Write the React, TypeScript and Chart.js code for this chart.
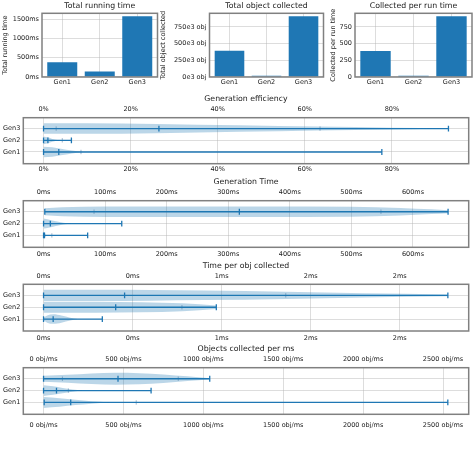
import React, { useEffect, useRef } from "react";
import { Chart, registerables } from "chart.js";

Chart.register(...registerables);

const W = 474;
const H = 474;
const FONT = "'DejaVu Sans', sans-serif";
const C0 = "#1f77b4";
const VIOLIN_FILL = "rgba(31,119,180,0.3)";
const QUANT_COLOR = "rgba(70,110,150,0.55)";
const GRID = "rgba(176,176,176,0.55)";
const TEXT = "#1a1a1a";
const TICK_SIZE = 6.5;
const TITLE_SIZE = 7.8;

Chart.defaults.font.family = FONT;

// ---------------- data: top bar charts ----------------
const gens = ["Gen1", "Gen2", "Gen3"];
const runTimeMs = [383, 140, 1575];
const collectedK = [392, 20, 910];
const collectedPerRun = [390, 18, 912];

const runTimeTicks = [0, 500, 1000, 1500];
const runTimeTickLabels = ["0ms", "500ms", "1000ms", "1500ms"];
const collectedTicks = [0, 250, 500, 750];
const collectedTickLabels = ["0e3 obj", "250e3 obj", "500e3 obj", "750e3 obj"];
const perRunTicks = [0, 250, 500, 750];
const perRunTickLabels = ["0", "250", "500", "750"];

// ---------------- data: violin panels ----------------
// Generation efficiency (%)
const effTicks = [0, 20, 40, 60, 80];
const effTickLabels = ["0%", "20%", "40%", "60%", "80%"];
const effShapeX = [
  [0, 2, 4, 6.5, 9],
  [0, 1, 2, 3.5],
  [0, 10, 26, 45, 63, 80, 93],
];
const effShapeW = [
  [0.45, 0.4, 0.28, 0.12, 0],
  [0.33, 0.25, 0.12, 0],
  [0.45, 0.45, 0.4, 0.28, 0.17, 0.08, 0.02],
];
const effMin = [0, 0, 0];
const effMedian = [3.5, 1.0, 26.5];
const effMax = [77.7, 6.4, 93];
const effQuantiles = [[8.6], [4.3], [2.9, 63.5]];

// Generation Time (ms)
const genTimeTicks = [0, 100, 200, 300, 400, 500, 600];
const genTimeTickLabels = ["0ms", "100ms", "200ms", "300ms", "400ms", "500ms", "600ms"];
const genTimeShapeX = [
  [0, 1.5, 4],
  [0, 8, 20, 32, 45],
  [2, 30, 100, 200, 350, 500, 580, 630, 657],
];
const genTimeShapeW = [
  [0.28, 0.22, 0],
  [0.42, 0.35, 0.2, 0.08, 0],
  [0.3, 0.38, 0.44, 0.45, 0.45, 0.42, 0.32, 0.2, 0.12],
];
const genTimeMin = [0, 0, 2];
const genTimeMedian = [1.5, 11, 318];
const genTimeMax = [71.6, 127, 657];
const genTimeQuantiles = [[13.5], [], [82, 548]];

// Time per obj collected (ms)
const perObjTicks = [0, 0.5, 1, 1.5, 2];
const perObjTickLabels = ["0ms", "0ms", "1ms", "2ms", "2ms"];
const perObjShapeX = [
  [0, 0.02, 0.055, 0.1, 0.15, 0.19],
  [0, 0.3, 0.55, 0.78, 0.97],
  [0, 0.3, 0.6, 0.9, 1.36, 1.8, 2.27],
];
const perObjShapeW = [
  [0.1, 0.3, 0.4, 0.3, 0.12, 0],
  [0.46, 0.46, 0.42, 0.33, 0.15],
  [0.48, 0.48, 0.45, 0.4, 0.3, 0.18, 0.08],
];
const perObjMin = [0, 0, 0];
const perObjMedian = [0.054, 0.405, 0.455];
const perObjMax = [0.33, 0.97, 2.27];
const perObjQuantiles = [[], [0.777], [1.36]];

// Objects collected per ms
const perMsTicks = [0, 500, 1000, 1500, 2000, 2500];
const perMsTickLabels = ["0 obj/ms", "500 obj/ms", "1000 obj/ms", "1500 obj/ms", "2000 obj/ms", "2500 obj/ms"];
const perMsShapeX = [
  [0, 100, 200, 300, 410],
  [0, 60, 120, 180, 245],
  [0, 150, 300, 450, 600, 750, 900, 1040],
];
const perMsShapeW = [
  [0.46, 0.36, 0.22, 0.1, 0],
  [0.45, 0.36, 0.22, 0.09, 0],
  [0.26, 0.34, 0.45, 0.5, 0.47, 0.36, 0.2, 0.05],
];
const perMsMin = [4, 0, 0];
const perMsMedian = [170, 81, 466];
const perMsMax = [2530, 673, 1040];
const perMsQuantiles = [[580], [155], [118, 843]];

// ---------------- plugins ----------------
const framePlugin = {
  id: "frame",
  afterDraw(chart: any) {
    const { ctx, chartArea: a } = chart;
    ctx.save();
    ctx.strokeStyle = "#808080";
    ctx.lineWidth = 1.5;
    ctx.strokeRect(a.left, a.top, a.right - a.left, a.bottom - a.top);
    ctx.restore();
  },
};

function makeTitle(text: string, offset: number) {
  return {
    id: "panelTitle",
    afterDraw(chart: any) {
      const { ctx, chartArea: a } = chart;
      ctx.save();
      ctx.font = `${TITLE_SIZE}px ${FONT}`;
      ctx.fillStyle = TEXT;
      ctx.textAlign = "center";
      ctx.textBaseline = "middle";
      ctx.fillText(text, (a.left + a.right) / 2, a.top - offset);
      ctx.restore();
    },
  };
}

const tickFont = { family: FONT, size: TICK_SIZE };

// ---------------- bar charts ----------------
const BAR_TOP = 13.3;
const BAR_BOTTOM = 77;
const BAR_XH = 10;

function barConfig(
  values: number[],
  yMax: number,
  yTicks: number[],
  yLabels: string[],
  yTitle: string,
  title: string,
  plotLeft: number,
  plotRight: number,
  yTitleX: number
) {
  const padLeft = yTitleX - (TICK_SIZE * 1.2) / 2;
  return {
    type: "bar",
    data: {
      datasets: [
        {
          data: values.map((v, i) => ({ x: i, y: v })),
          backgroundColor: C0,
          categoryPercentage: 1,
          barPercentage: 0.8,
          xAxisID: "x",
          yAxisID: "y",
        },
      ],
    },
    options: {
      animation: false,
      responsive: false,
      devicePixelRatio: 1,
      events: [],
      layout: {
        padding: { left: padLeft, right: W - plotRight, top: BAR_TOP, bottom: H - BAR_BOTTOM - BAR_XH },
      },
      plugins: { legend: { display: false }, tooltip: { enabled: false } },
      scales: {
        x: {
          type: "linear",
          min: -0.54,
          max: 2.54,
          offset: false,
          z: 1,
          afterBuildTicks: (s: any) => {
            s.ticks = gens.map((_, i) => ({ value: i }));
          },
          ticks: {
            callback: (v: number) => gens[Math.round(v)],
            font: tickFont,
            color: TEXT,
            padding: 1.1,
            maxRotation: 0,
            autoSkip: false,
          },
          grid: { color: GRID, lineWidth: 0.8, drawTicks: false, offset: false },
          border: { display: false },
          afterFit: (s: any) => {
            s.height = BAR_XH;
          },
        },
        y: {
          type: "linear",
          min: 0,
          max: yMax,
          z: 1,
          afterBuildTicks: (s: any) => {
            s.ticks = yTicks.map((v) => ({ value: v }));
          },
          ticks: {
            callback: (v: number) => yLabels[yTicks.indexOf(v)],
            font: tickFont,
            color: TEXT,
            padding: 3,
            autoSkip: false,
          },
          grid: { color: GRID, lineWidth: 0.8, drawTicks: false },
          border: { display: false },
          title: { display: true, text: yTitle, font: { family: FONT, size: TICK_SIZE }, color: TEXT, padding: 0 },
          afterFit: (s: any) => {
            s.width = plotLeft - padLeft;
          },
        },
      },
    },
    plugins: [framePlugin, makeTitle(title, 7.6)],
  };
}

// ---------------- violin panels ----------------
const V_LEFT = 23.3;
const V_RIGHT = 472.7;
const V_TOP_H = 20;
const V_BOT_H = 14;
const V_YMAX = 3.93;

function violinDatasets(
  shapeX: number[][],
  shapeW: number[][],
  mins: number[],
  meds: number[],
  maxs: number[],
  quants: number[][]
) {
  const ds: any[] = [];
  gens.forEach((_, g) => {
    const pos = g + 1;
    const xs = shapeX[g];
    const ws = shapeW[g];
    [1, -1].forEach((sgn) => {
      ds.push({
        type: "line",
        data: xs.map((x, i) => ({ x, y: pos + sgn * ws[i] })),
        fill: { value: pos },
        backgroundColor: VIOLIN_FILL,
        borderColor: "rgba(0,0,0,0)",
        borderWidth: 1,
        pointRadius: 0,
        cubicInterpolationMode: "monotone",
        xAxisID: "x",
        yAxisID: "y",
      });
    });
    ds.push({
      type: "line",
      data: [
        { x: mins[g], y: pos },
        { x: maxs[g], y: pos },
      ],
      borderColor: C0,
      borderWidth: 1.3,
      pointRadius: 0,
      fill: false,
      xAxisID: "x",
      yAxisID: "y",
    });
    ds.push({
      type: "line",
      showLine: false,
      data: [mins[g], meds[g], maxs[g]].map((x) => ({ x, y: pos })),
      pointStyle: "line",
      pointRotation: 90,
      pointRadius: 2.9,
      pointBorderColor: C0,
      pointBorderWidth: 1.3,
      fill: false,
      xAxisID: "x",
      yAxisID: "y",
    });
    ds.push({
      type: "line",
      showLine: false,
      data: quants[g].map((x) => ({ x, y: pos })),
      pointStyle: "line",
      pointRotation: 90,
      pointRadius: 2.2,
      pointBorderColor: QUANT_COLOR,
      pointBorderWidth: 0.9,
      fill: false,
      xAxisID: "x",
      yAxisID: "y",
    });
  });
  return ds;
}

function violinConfig(
  title: string,
  xMin: number,
  xMax: number,
  ticks: number[],
  labels: string[],
  datasets: any[],
  plotTop: number,
  plotBottom: number,
  bottomPad: number
) {
  const xTicks = {
    callback: (v: number) => labels[ticks.indexOf(v)],
    font: tickFont,
    color: TEXT,
    maxRotation: 0,
    autoSkip: false,
  };
  const setTicks = (s: any) => {
    s.ticks = ticks.map((v) => ({ value: v }));
  };
  return {
    type: "line",
    data: { datasets },
    options: {
      animation: false,
      responsive: false,
      devicePixelRatio: 1,
      events: [],
      layout: {
        padding: {
          left: 0,
          right: W - V_RIGHT,
          top: plotTop - V_TOP_H,
          bottom: H - plotBottom - V_BOT_H,
        },
      },
      plugins: { legend: { display: false }, tooltip: { enabled: false } },
      scales: {
        x: {
          type: "linear",
          position: "bottom",
          min: xMin,
          max: xMax,
          afterBuildTicks: setTicks,
          ticks: { ...xTicks, padding: bottomPad },
          grid: { color: GRID, lineWidth: 0.8, drawTicks: false },
          border: { display: false },
          afterFit: (s: any) => {
            s.height = V_BOT_H;
          },
        },
        x2: {
          type: "linear",
          position: "top",
          min: xMin,
          max: xMax,
          afterBuildTicks: setTicks,
          ticks: { ...xTicks, padding: 4.5 },
          grid: { drawOnChartArea: false, drawTicks: false },
          border: { display: false },
          afterFit: (s: any) => {
            s.height = V_TOP_H;
          },
        },
        y: {
          type: "linear",
          min: 0,
          max: V_YMAX,
          afterBuildTicks: (s: any) => {
            s.ticks = gens.map((_, i) => ({ value: i + 1 }));
          },
          ticks: {
            callback: (v: number) => gens[Math.round(v) - 1],
            font: tickFont,
            color: TEXT,
            padding: 3,
            autoSkip: false,
          },
          grid: { color: GRID, lineWidth: 0.8, drawTicks: false },
          border: { display: false },
          afterFit: (s: any) => {
            s.width = V_LEFT;
          },
        },
      },
    },
    plugins: [framePlugin, makeTitle(title, 18.4)],
  };
}

const configs: Array<() => any> = [
  () =>
    barConfig(runTimeMs, 1650, runTimeTicks, runTimeTickLabels, "Total running time", "Total running time", 42, 157.5, 5),
  () =>
    barConfig(collectedK, 955.5, collectedTicks, collectedTickLabels, "Total object collected", "Total object collected", 209.5, 323.5, 163.3),
  () =>
    barConfig(collectedPerRun, 955.5, perRunTicks, perRunTickLabels, "Collected per run time", "Collected per run time", 355, 472, 333.3),
  () =>
    violinConfig(
      "Generation efficiency",
      -4.65,
      97.65,
      effTicks,
      effTickLabels,
      violinDatasets(effShapeX, effShapeW, effMin, effMedian, effMax, effQuantiles),
      117.7,
      163.7,
      1.4
    ),
  () =>
    violinConfig(
      "Generation Time",
      -32.9,
      690.5,
      genTimeTicks,
      genTimeTickLabels,
      violinDatasets(genTimeShapeX, genTimeShapeW, genTimeMin, genTimeMedian, genTimeMax, genTimeQuantiles),
      200.7,
      247.3,
      2.8
    ),
  () =>
    violinConfig(
      "Time per obj collected",
      -0.1137,
      2.387,
      perObjTicks,
      perObjTickLabels,
      violinDatasets(perObjShapeX, perObjShapeW, perObjMin, perObjMedian, perObjMax, perObjQuantiles),
      284.3,
      331,
      3.4
    ),
  () =>
    violinConfig(
      "Objects collected per ms",
      -126.7,
      2660.7,
      perMsTicks,
      perMsTickLabels,
      violinDatasets(perMsShapeX, perMsShapeW, perMsMin, perMsMedian, perMsMax, perMsQuantiles),
      367.7,
      414.3,
      6.8
    ),
];

function ChartCanvas({ make }: { make: () => any }) {
  const ref = useRef<HTMLCanvasElement | null>(null);
  useEffect(() => {
    if (!ref.current) return;
    const chart = new Chart(ref.current, make());
    return () => chart.destroy();
  }, [make]);
  return (
    <canvas
      ref={ref}
      width={W}
      height={H}
      style={{ position: "absolute", left: 0, top: 0, width: W, height: H, pointerEvents: "none" }}
    />
  );
}

export default function App() {
  return (
    <div style={{ position: "fixed", left: 0, top: 0, width: W, height: H, background: "#ffffff", overflow: "hidden" }}>
      {configs.map((make, i) => (
        <ChartCanvas key={i} make={make} />
      ))}
    </div>
  );
}
